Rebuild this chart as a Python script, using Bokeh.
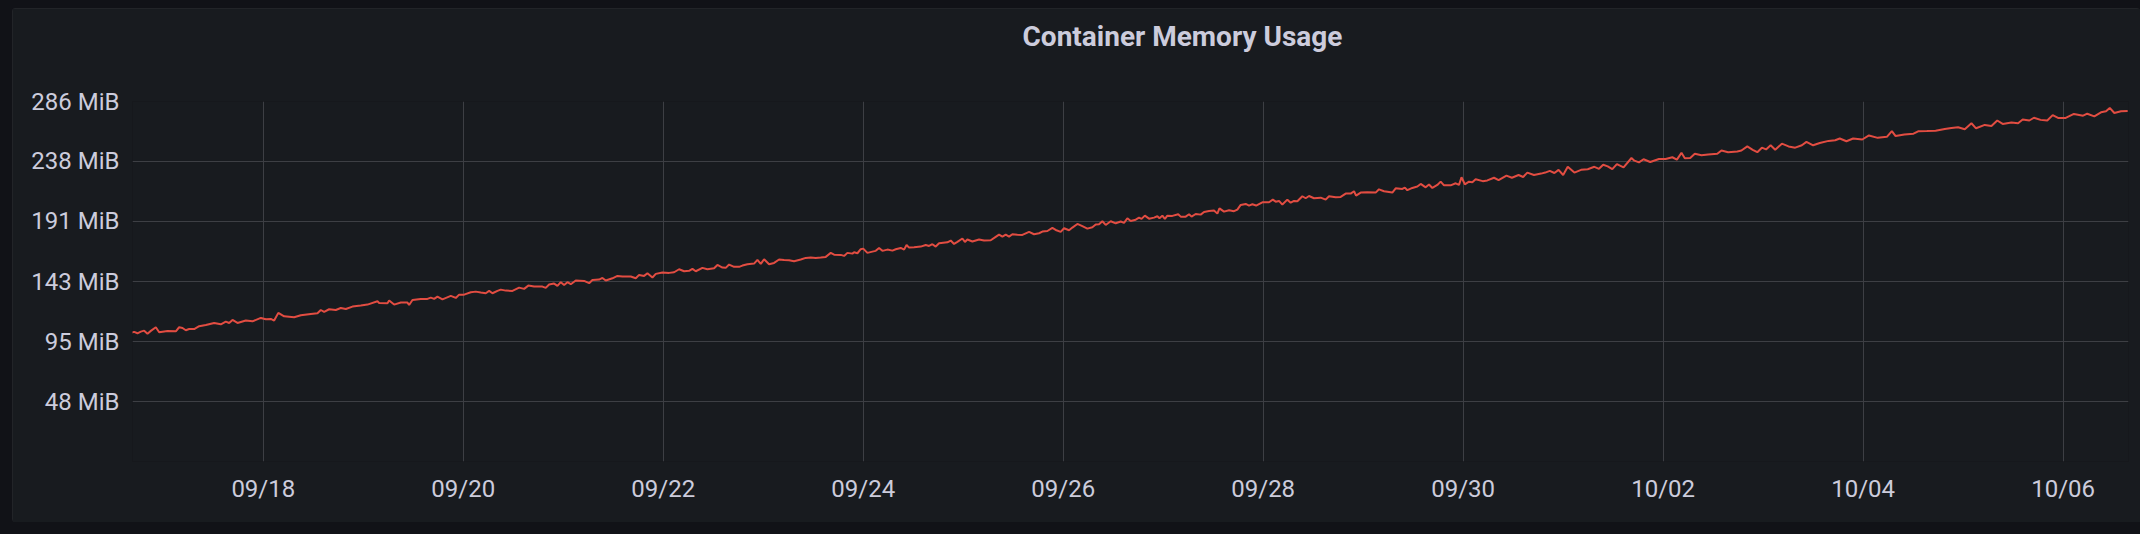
import pandas as pd
from bokeh.plotting import figure
from bokeh.models import FixedTicker, DatetimeTickFormatter, Range1d, Title
from bokeh.embed import file_html
from bokeh.resources import INLINE

# ---------------- data ----------------
title_text = "Container Memory Usage"
base_time = "2023-09-16 00:00"
x_start = "2023-09-16 16:36"
x_end = "2023-10-06 15:42"

# hours since base_time
t_hours = [
    16.2, 17.0, 17.8, 18.6, 19.4, 20.2, 21.0, 22.2, 23.0, 23.8, 25.0, 27.0, 27.8, 28.6, 29.4,
    30.2, 31.4, 32.6, 34.2, 36.2, 37.8, 39.0, 39.8, 40.6, 41.8, 43.8, 45.4, 47.4, 48.6, 49.8,
    50.6, 51.6, 53.0, 55.4, 57.0, 59.4, 61.0, 61.8, 62.6, 63.8, 65.4, 66.6, 67.8, 69.4, 71.4,
    73.0, 75.4, 75.8, 77.8, 78.2, 79.4, 81.0, 82.6, 83.0, 83.8, 85.8, 87.4, 88.2, 89.0, 89.8,
    91.0, 93.0, 94.2, 95.0, 96.2, 97.8,
    99.0, 100.2, 101.4, 102.2, 103.0, 104.2, 105.0, 106.2, 107.8, 109.4, 110.6, 111.6, 113.0,
    115.0, 115.8, 116.6, 117.8, 118.6, 119.4, 120.2, 121.0, 121.8, 123.0, 125.0, 126.2, 127.0,
    128.6, 129.4, 130.2, 131.8, 133.0, 134.2, 136.2, 137.4, 138.2, 139.4, 140.2, 141.4, 142.2,
    143.8, 145.4, 146.6, 147.8, 149.0, 150.2, 151.0, 151.8, 153.4, 154.6, 156.2, 157.0, 158.2,
    159.0, 159.8, 161.0, 162.2, 163.0, 164.2, 165.8, 166.6, 167.4, 168.2, 169.4, 170.6, 171.8,
    173.0, 174.2, 175.4,
    177.0, 178.2, 179.4, 180.6, 181.8, 183.0, 184.2, 185.0, 186.6, 187.4, 188.2, 189.4, 189.8,
    190.6, 191.4, 192.0, 193.0, 194.2, 195.0, 195.8, 196.6, 197.8, 199.0, 199.8, 201.0, 201.8,
    202.4, 203.0, 204.2, 205.8, 207.0, 207.8, 208.6, 209.4, 210.2, 212.2, 213.0, 213.8, 214.6,
    215.8, 216.4, 217.0, 218.2, 219.8, 221.0, 222.6, 223.8, 224.6, 225.4, 226.2, 227.0, 227.8,
    229.0, 230.2, 231.8, 233.0, 234.2, 235.0, 236.2, 237.4, 238.2, 239.4, 240.2, 241.4, 242.2,
    243.4, 244.6, 245.8, 247.0, 247.8, 248.6, 249.4, 250.2, 251.4, 252.6, 253.8, 254.6, 255.4,
    256.2,
    257.4, 258.2, 258.8, 259.6, 260.6, 261.8, 262.6, 263.1, 263.8, 264.4, 265.0, 266.2, 267.6,
    268.2, 269.4, 270.2, 270.8, 271.8, 273.0, 273.8, 275.0, 276.2, 277.0, 277.5, 278.6, 279.8,
    281.0, 281.8, 282.6, 283.8, 284.6, 285.4, 286.3, 287.8, 289.4, 290.3, 291.0, 291.8, 292.6,
    293.8, 294.6, 295.4, 296.2, 297.4, 298.2, 299.0, 300.2, 301.8, 303.0, 303.8, 305.4, 306.6,
    307.8, 309.0, 309.8, 310.3, 311.4, 313.0, 315.0, 315.8, 317.0, 319.0, 319.8, 321.4, 322.0,
    322.6, 323.8, 325.0, 325.8, 327.0, 327.8, 328.6, 329.8, 330.6, 331.4, 333.0, 334.2, 335.0,
    335.6, 336.4, 337.4, 338.2, 339.0,
    340.7, 341.8, 343.4, 344.5, 346.4, 347.7, 349.3, 350.4, 351.4, 353.0, 354.7, 355.7, 356.8,
    357.9, 358.9, 360.0, 361.1, 362.7, 364.3, 365.9, 367.5, 368.6, 369.6, 370.7, 371.8, 372.9,
    374.5, 376.4, 377.1, 378.2, 379.3, 380.9, 383.0, 384.6, 386.2, 387.3, 388.4, 389.2, 390.5,
    391.6, 393.2, 394.8, 397.0, 398.0, 399.6, 401.8, 402.8, 404.2, 405.5, 406.6, 407.7, 408.7,
    409.8, 410.9, 412.5, 414.1, 415.7, 417.3, 418.4, 420.0, 421.6, 423.7, 425.3, 426.4, 428.0,
    429.6, 431.8, 433.4, 435.5, 437.7, 438.9, 439.8, 441.9, 444.1, 445.2, 447.3, 449.4, 451.6,
    453.2, 454.8, 456.4, 458.0, 459.1, 461.2, 462.8, 464.2, 465.5, 467.6, 469.2, 470.3, 471.9,
    473.0, 474.6, 476.2, 477.5, 478.9, 480.5, 482.6, 484.8, 485.8, 487.5, 489.1, 490.3, 491.2,
    492.3, 493.9, 495.5,
]

# container memory in MiB
mem_mib = [
    102.2, 103.0, 101.9, 103.2, 104.0, 101.6, 103.8, 106.7, 102.7, 103.2, 103.8, 103.5, 106.7, 106.1, 104.3,
    105.3, 105.3, 107.5, 108.5, 110.1, 109.0, 111.2, 110.1, 112.5, 110.1, 112.0, 111.4, 114.1, 113.0, 113.3,
    112.0, 118.1, 115.4, 114.6, 116.2, 117.3, 117.8, 120.4, 118.9, 121.0, 120.4, 122.0, 121.2, 123.1, 123.9,
    124.7, 127.3, 126.0, 125.7, 127.9, 124.7, 126.3, 126.3, 124.4, 128.4, 129.2, 129.2, 130.2, 129.2, 131.0,
    128.9, 131.6, 130.0, 132.6, 132.6, 134.5,
    135.0, 134.3, 133.7, 135.6, 133.7, 135.6, 136.6, 135.8, 135.6, 138.2, 137.2, 139.8, 139.0,
    139.0, 138.0, 140.6, 141.4, 139.6, 142.5, 140.3, 142.5, 140.9, 143.8, 143.5, 141.7, 144.3,
    144.6, 145.9, 143.8, 145.6, 147.5, 147.0, 147.0, 145.6, 148.3, 147.5, 149.6, 146.2, 149.1,
    150.2, 149.9, 150.4, 152.8, 151.2, 151.5, 153.1, 151.2, 153.9, 152.8, 153.6, 156.2, 154.1,
    153.9, 156.5, 154.7, 154.7, 155.7, 156.8, 157.3, 160.2, 157.0, 160.7, 156.8, 157.8, 160.5,
    160.2, 160.0, 159.2,
    160.5, 161.8, 162.1, 161.8, 162.1, 162.6, 165.8, 164.4, 164.2, 163.4, 165.8, 165.2, 166.3,
    165.5, 168.7, 169.2, 165.8, 166.8, 167.4, 169.7, 167.4, 168.4, 167.6, 168.7, 169.7, 168.4,
    172.1, 170.0, 170.3, 170.8, 172.1, 171.3, 172.7, 170.8, 173.4, 174.2, 175.6, 172.9, 174.5,
    177.2, 174.5, 176.4, 174.8, 176.4, 175.6, 175.8, 178.5, 180.3, 178.7, 180.3, 178.7, 180.6,
    180.3, 180.1, 182.5, 180.6, 181.4, 182.7, 183.2, 185.6, 184.0, 182.5, 185.4, 183.8, 185.9,
    188.8, 187.0, 185.1, 186.2, 188.3, 188.5, 190.9, 188.0, 190.9, 189.3, 190.7, 189.6, 193.3,
    191.2,
    192.2, 193.8, 192.8, 195.4, 193.0, 193.8, 194.9, 193.3, 195.4, 192.8, 195.4, 195.2, 196.5,
    194.6, 194.6, 196.5, 194.6, 196.7, 196.2, 198.3, 199.1, 199.4, 197.0, 201.2, 198.6, 199.7,
    198.9, 200.2, 203.9, 204.7, 203.4, 204.4, 203.4, 206.0, 206.0, 208.1, 206.5, 207.1, 204.2,
    208.1, 205.7, 207.1, 206.8, 210.8, 209.2, 211.0, 209.2, 209.7, 208.1, 210.8, 210.0, 210.3,
    212.9, 212.9, 214.8, 211.3, 213.7, 214.0, 213.7, 216.3, 214.8, 213.7, 217.1, 216.6, 217.7,
    215.6, 217.4, 218.5, 220.6, 217.9, 220.1, 217.4, 219.8, 222.4, 219.5, 219.5, 221.1, 219.8,
    225.9, 220.3, 222.4, 221.9, 224.3,
    222.8, 223.4, 225.5, 223.6, 227.2, 225.5, 227.7, 226.1, 229.6, 227.7, 228.8, 229.6, 231.0,
    229.3, 231.8, 227.7, 234.2, 229.6, 231.8, 232.3, 234.2, 232.6, 235.8, 234.5, 232.3, 236.4,
    233.7, 241.2, 239.1, 237.7, 240.2, 238.0, 240.4, 240.4, 241.8, 239.9, 245.3, 241.0, 241.2,
    244.5, 243.4, 243.9, 244.5, 247.2, 245.8, 246.4, 247.2, 250.4, 247.7, 245.8, 249.4, 248.0,
    251.3, 247.7, 252.6, 250.4, 249.4, 251.3, 254.0, 251.3, 253.1, 254.8, 255.3, 256.7, 254.5,
    256.7, 255.9, 259.1, 257.2, 258.0, 262.6, 258.6, 259.9, 260.5, 262.4, 262.6, 262.9, 264.2,
    265.1, 265.6, 264.0, 268.8, 264.8, 267.5, 266.7, 271.0, 268.3, 269.4, 268.8, 271.8, 271.0,
    273.2, 271.5, 271.0, 275.3, 272.9, 272.9, 276.2, 274.8, 276.4, 274.3, 277.5, 278.3, 281.0,
    277.0, 278.3, 278.6,
]

# y ticks: 50 MB steps expressed in MiB
y_tick_values = [47.6837, 95.3674, 143.0511, 190.7349, 238.4186, 286.1023]
y_tick_labels = ["48 MiB", "95 MiB", "143 MiB", "191 MiB", "238 MiB", "286 MiB"]
y_min, y_max = 0.0, 286.1023

x_tick_dates = ["2023-09-18", "2023-09-20", "2023-09-22", "2023-09-24", "2023-09-26",
                "2023-09-28", "2023-09-30", "2023-10-02", "2023-10-04", "2023-10-06"]

# ---------------- styling ----------------
PANEL_BG = "#181b1f"
PAGE_BG = "#111217"
TEXT = "#ccccdc"
GRID = "#3d3f44"
LINE = "#E24D42"
FONT = "Roboto"

times = pd.Timestamp(base_time) + pd.to_timedelta(t_hours, unit="h")

p = figure(
    width=2128, height=514,
    x_axis_type="datetime",
    x_range=Range1d(pd.Timestamp(x_start), pd.Timestamp(x_end)),
    y_range=Range1d(y_min, y_max),
    output_backend="svg", toolbar_location=None,
    min_border_left=120, min_border_right=12, min_border_top=93, min_border_bottom=61,
    background_fill_color=PANEL_BG, border_fill_color=PANEL_BG,
    outline_line_color=None,
)
p.styles = {"margin-left": "12px", "margin-top": "8px", "border-radius": "3px",
            "outline": "1px solid #26282d", "outline-offset": "-1px"}

xax = p.below[0]
yax = p.left[0]

# blank spacer between the frame and the main title
p.add_layout(Title(text=" ", text_font_size="1px", standoff=41), "above")

p.title.text = title_text
p.title.align = "left"
p.title.vertical_align = "bottom"
p.title.offset = 890
p.title.standoff = 10
p.title.text_font = FONT
p.title.text_font_size = "28px"
p.title.text_font_style = "bold"
p.title.text_color = TEXT

p.line(times, mem_mib, line_color=LINE, line_width=2)

for ax in (xax, yax):
    ax.axis_line_color = None
    ax.major_tick_line_color = None
    ax.minor_tick_line_color = None
    ax.major_tick_out = 0
    ax.major_tick_in = 0
    ax.minor_tick_out = 0
    ax.minor_tick_in = 0
    ax.major_label_text_font = FONT
    ax.major_label_text_font_size = "24px"
    ax.major_label_text_color = TEXT

yax.ticker = FixedTicker(ticks=y_tick_values)
yax.major_label_overrides = dict(zip(y_tick_values, y_tick_labels))
yax.major_label_standoff = 13

xax.ticker = FixedTicker(ticks=[pd.Timestamp(d).value / 1e6 for d in x_tick_dates])
xax.formatter = DatetimeTickFormatter(days="%m/%d", months="%m/%d", hours="%m/%d")
xax.major_label_standoff = 13

p.xgrid.grid_line_color = GRID
p.ygrid.grid_line_color = GRID
p.xgrid.grid_line_width = 1
p.ygrid.grid_line_width = 1

html = file_html(p, INLINE)
html = html.replace("</head>", "<style>body{background:%s;}</style></head>" % PAGE_BG, 1)
open("out.html", "w").write(html)
